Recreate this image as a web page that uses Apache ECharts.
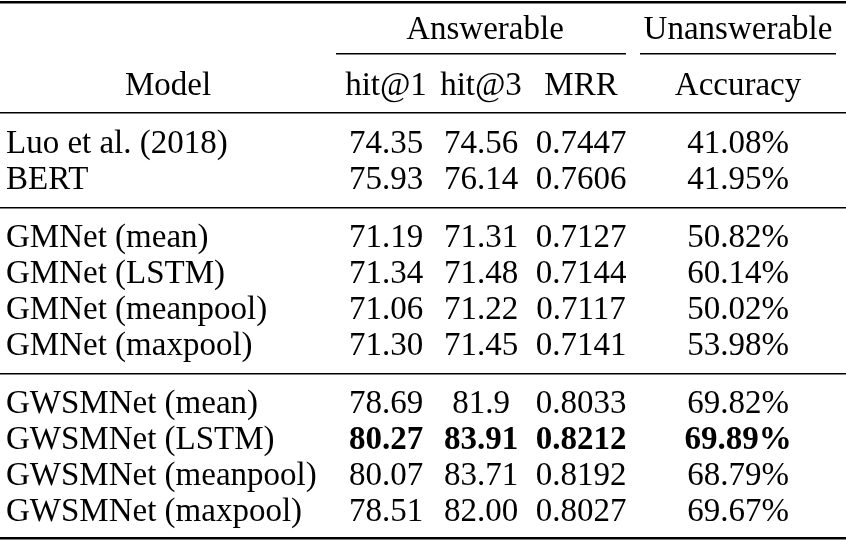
<!DOCTYPE html>
<html><head><meta charset="utf-8">
<script src="https://cdn.jsdelivr.net/npm/echarts@6/dist/echarts.min.js"></script>
<style>html,body{margin:0;padding:0;background:#fff}#c{width:846px;height:554px}</style>
</head><body><div id="c"></div>
<script>
const models = ["Luo et al. (2018)","BERT","GMNet (mean)","GMNet (LSTM)","GMNet (meanpool)","GMNet (maxpool)","GWSMNet (mean)","GWSMNet (LSTM)","GWSMNet (meanpool)","GWSMNet (maxpool)"];
const hit1 = ["74.35","75.93","71.19","71.34","71.06","71.30","78.69","80.27","80.07","78.51"];
const hit3 = ["74.56","76.14","71.31","71.48","71.22","71.45","81.9","83.91","83.71","82.00"];
const mrr = ["0.7447","0.7606","0.7127","0.7144","0.7117","0.7141","0.8033","0.8212","0.8192","0.8027"];
const acc = ["41.08%","41.95%","50.82%","60.14%","50.02%","53.98%","69.82%","69.89%","68.79%","69.67%"];
const boldRow = 7;
const headers = ["Model","hit@1","hit@3","MRR","Accuracy"];

const F = '"Liberation Serif","DejaVu Serif",serif';
const FS = 33;
const colX = [168, 386, 481, 581, 738];
const rowY = [144,180,238,274,310,346,404,440,476,512];
const els = [];
function txt(s,x,y,align,bold){els.push({type:'text',x:x,y:y,style:{text:s,font:(bold?'bold ':'')+FS+'px '+F,fill:'#000',textAlign:align,textVerticalAlign:'middle'}});}
function line(x1,x2,y,w){els.push({type:'rect',shape:{x:x1,y:y,width:x2-x1,height:w},style:{fill:'#000'}});}
line(0,846,1,2.5);
txt("Answerable",485,30,'center');
txt("Unanswerable",738,30,'center');
line(336,626,53,1.5);
line(640,836,53,1.5);
headers.forEach((h,i)=>txt(h,colX[i],86,'center'));
line(0,846,112,1.5);
line(0,846,207,1.5);
line(0,846,373,1.5);
line(0,846,537,2.5);
models.forEach((m,i)=>{
  const b = i===boldRow;
  txt(m,6,rowY[i],'left');
  txt(hit1[i],colX[1],rowY[i],'center',b);
  txt(hit3[i],colX[2],rowY[i],'center',b);
  txt(mrr[i],colX[3],rowY[i],'center',b);
  txt(acc[i],colX[4],rowY[i],'center',b);
});
const chart = echarts.init(document.getElementById('c'));
chart.setOption({animation:false,graphic:{elements:els}});
</script></body></html>
